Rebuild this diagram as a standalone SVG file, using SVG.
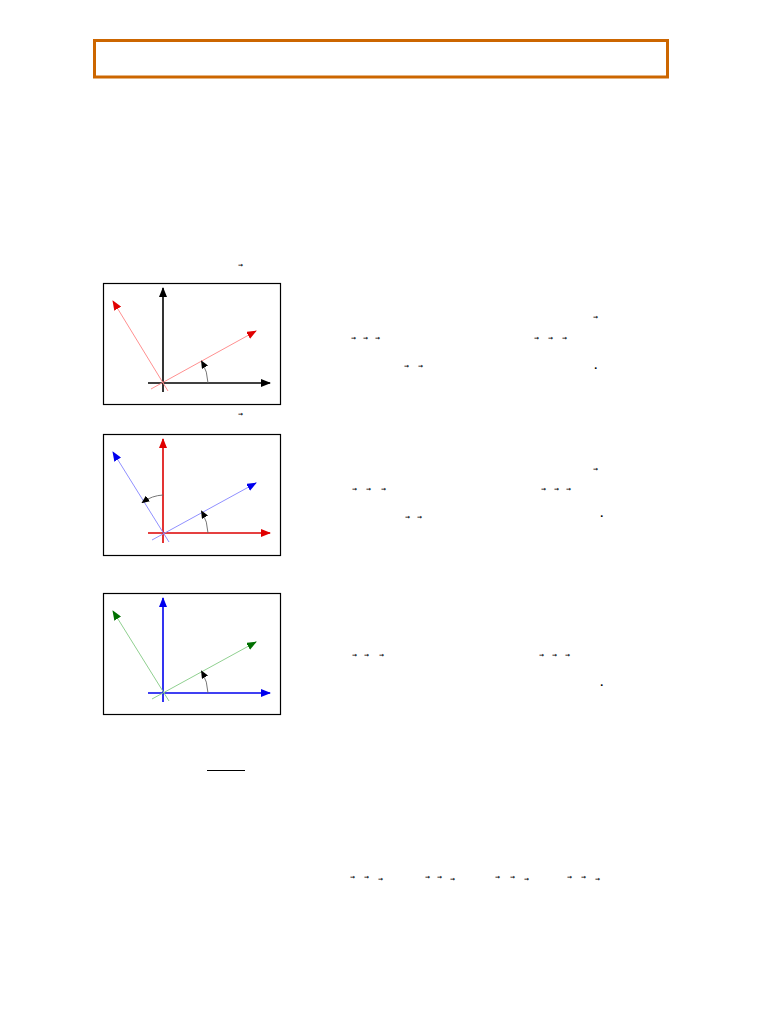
<svg xmlns="http://www.w3.org/2000/svg" width="768" height="1024" viewBox="0 0 768 1024">
<style>
.frame{fill:#fff;stroke:#000;stroke-width:1.2}
.ax{stroke-width:1.6;fill:none}
.vec{stroke-width:1;fill:none}
.arc{stroke:#666;stroke-width:0.9;fill:none;marker-end:url(#ah)}
.acc{font-family:"DejaVu Sans",sans-serif;font-size:6px;font-weight:bold;fill:#000}
.dot{font-family:"DejaVu Sans",sans-serif;font-size:9px;font-weight:bold;fill:#000}
</style>
<defs>
<marker id="mk" markerUnits="userSpaceOnUse" markerWidth="10" markerHeight="8" refX="9" refY="4" orient="auto"><path d="M0,0 L10,4 L0,8 z" fill="#000"/></marker>
<marker id="mr" markerUnits="userSpaceOnUse" markerWidth="10" markerHeight="8" refX="9" refY="4" orient="auto"><path d="M0,0 L10,4 L0,8 z" fill="#e00000"/></marker>
<marker id="mb" markerUnits="userSpaceOnUse" markerWidth="10" markerHeight="8" refX="9" refY="4" orient="auto"><path d="M0,0 L10,4 L0,8 z" fill="#0000ee"/></marker>
<marker id="mg" markerUnits="userSpaceOnUse" markerWidth="10" markerHeight="8" refX="9" refY="4" orient="auto"><path d="M0,0 L10,4 L0,8 z" fill="#007000"/></marker>
<marker id="ah" markerUnits="userSpaceOnUse" markerWidth="8" markerHeight="7" refX="6" refY="3.5" orient="auto"><path d="M0,0 L8,3.5 L0,7 z" fill="#000"/></marker>
</defs>
<rect width="768" height="1024" fill="#fff"/>
<rect id="header" x="94.5" y="40.5" width="573" height="36.5" fill="#fff" stroke="#cc6600" stroke-width="3"/>

<g id="panel1">
<rect class="frame" x="103.5" y="283.5" width="177" height="121"/>
<line class="ax" x1="148" y1="383" x2="270" y2="383" stroke="#000" marker-end="url(#mk)"/>
<line class="ax" x1="163" y1="392" x2="163" y2="288" stroke="#000" marker-end="url(#mk)"/>
<line class="vec" x1="168" y1="391" x2="113" y2="301" stroke="#ff9090" marker-end="url(#mr)"/>
<line class="vec" x1="151" y1="389" x2="256" y2="331" stroke="#ff9090" marker-end="url(#mr)"/>
<path class="arc" d="M208,383 A45,45 0 0,0 202,362"/>
</g>

<g id="panel2">
<rect class="frame" x="103.5" y="434.5" width="177" height="121"/>
<line class="ax" x1="148" y1="533" x2="270" y2="533" stroke="#dd0000" marker-end="url(#mr)"/>
<line class="ax" x1="163" y1="543" x2="163" y2="439" stroke="#dd0000" marker-end="url(#mr)"/>
<line class="vec" x1="169" y1="542" x2="113" y2="452" stroke="#9090ff" marker-end="url(#mb)"/>
<line class="vec" x1="152" y1="540" x2="256" y2="483" stroke="#9090ff" marker-end="url(#mb)"/>
<path class="arc" d="M208,533 A45,45 0 0,0 202,512"/>
<path class="arc" d="M163,495 A38,38 0 0,0 143,502"/>
</g>

<g id="panel3">
<rect class="frame" x="103.5" y="593.5" width="177" height="121"/>
<line class="ax" x1="148" y1="693" x2="270" y2="693" stroke="#0000ee" marker-end="url(#mb)"/>
<line class="ax" x1="163" y1="702" x2="163" y2="598" stroke="#0000ee" marker-end="url(#mb)"/>
<line class="vec" x1="169" y1="701" x2="113" y2="611" stroke="#90d090" marker-end="url(#mg)"/>
<line class="vec" x1="152" y1="699" x2="256" y2="642" stroke="#90d090" marker-end="url(#mg)"/>
<path class="arc" d="M208,693 A45,45 0 0,0 202,672"/>
</g>

<line id="fracbar" x1="207" y1="770.5" x2="245" y2="770.5" stroke="#000" stroke-width="1"/>

<g id="accents" class="acc">
<text x="238" y="267">→</text>
<text x="238" y="416">→</text>
<text x="593" y="319">→</text>
<text x="351" y="340">→</text><text x="363" y="340">→</text><text x="375" y="340">→</text>
<text x="534" y="340">→</text><text x="548" y="340">→</text><text x="562" y="340">→</text>
<text x="404" y="368">→</text><text x="418" y="368">→</text>
<text x="593" y="471">→</text>
<text x="352" y="491">→</text><text x="366" y="491">→</text><text x="381" y="491">→</text>
<text x="541" y="491">→</text><text x="554" y="491">→</text><text x="566" y="491">→</text>
<text x="405" y="519">→</text><text x="417" y="519">→</text>
<text x="352" y="657">→</text><text x="364" y="657">→</text><text x="379" y="657">→</text>
<text x="539" y="657">→</text><text x="552" y="657">→</text><text x="565" y="657">→</text>
<text x="350" y="879">→</text><text x="364" y="879">→</text><text x="378" y="881">→</text>
<text x="425" y="879">→</text><text x="437" y="879">→</text><text x="450" y="881">→</text>
<text x="495" y="879">→</text><text x="510" y="879">→</text><text x="524" y="881">→</text>
<text x="567" y="879">→</text><text x="581" y="879">→</text><text x="595" y="881">→</text>
</g>
<g id="dots" class="dot">
<text x="594" y="369">.</text>
<text x="600" y="517">.</text>
<text x="600" y="686">.</text>
</g>
</svg>
